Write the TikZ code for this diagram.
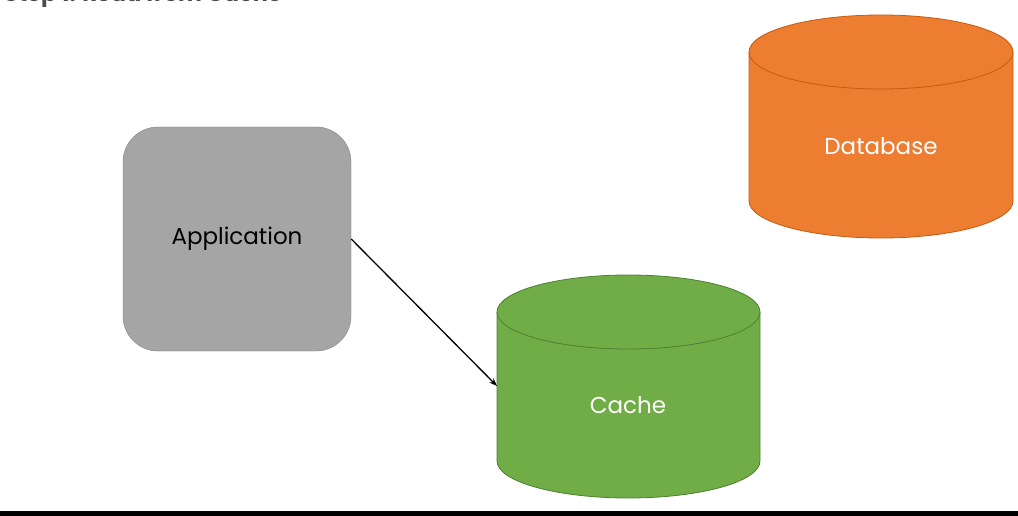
\documentclass[tikz,border=0pt]{standalone}
\usepackage{fontspec}
\setmainfont{Poppins}
\usetikzlibrary{arrows.meta}
\definecolor{appfill}{HTML}{A5A5A5}
\definecolor{dbfill}{HTML}{ED7D31}
\definecolor{dbline}{HTML}{C55A11}
\definecolor{cfill}{HTML}{70AD47}
\definecolor{cline}{HTML}{507E32}
\tikzset{lbl/.style={font=\fontsize{23}{27}\selectfont}}
\begin{document}
\begin{tikzpicture}[x=1pt,y=-1pt]
\useasboundingbox (0,0) rectangle (1018,516);
\fill[black] (0,511) rectangle (1018,516);
\node[anchor=base west,font=\bfseries\fontsize{22.5}{26}\selectfont,text=black!70,inner sep=0] (title) at (4,2) {Step 1: Read from Cache};
% application
\node[draw=black!50,fill=appfill,rounded corners=35pt,minimum width=228pt,minimum height=224pt,lbl] (app) at (237,239) {Application};
% database cylinder
\filldraw[fill=dbfill,draw=dbline,line width=0.8pt] (749,52) -- (749,201) arc[start angle=180,end angle=0,x radius=132,y radius=37] -- (1013,52) arc[start angle=0,end angle=-180,x radius=132,y radius=37] -- cycle;
\draw[dbline,line width=0.8pt] (749,52) arc[start angle=180,end angle=0,x radius=132,y radius=37];
\node[lbl,text=white] (db) at (881,146) {Database};
% cache cylinder
\filldraw[fill=cfill,draw=cline,line width=0.8pt] (497,312) -- (497,461) arc[start angle=180,end angle=0,x radius=131.5,y radius=37] -- (760,312) arc[start angle=0,end angle=-180,x radius=131.5,y radius=37] -- cycle;
\draw[cline,line width=0.8pt] (497,312) arc[start angle=180,end angle=0,x radius=131.5,y radius=37];
\node[lbl,text=white] (cache) at (628,405) {Cache};
\coordinate (cin) at (497,386);
\draw[-{Stealth[length=8pt,width=6pt]},line width=1.3pt] (app.east) -- (cin);
\end{tikzpicture}
\end{document}
